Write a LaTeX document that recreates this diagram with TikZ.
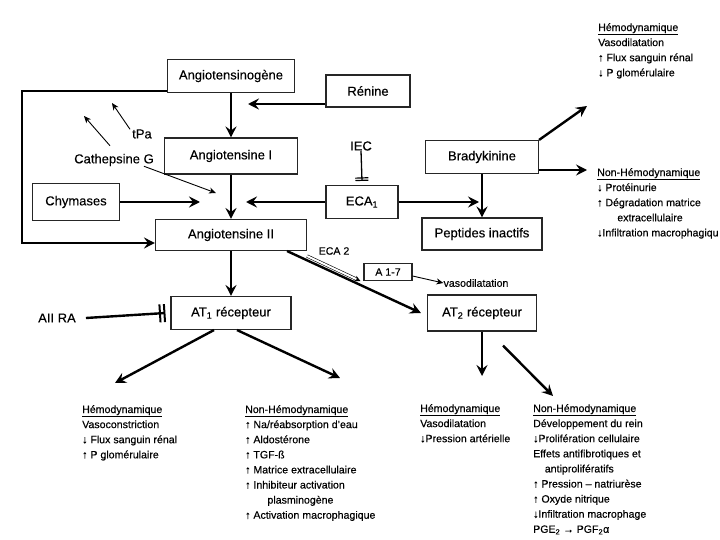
\documentclass[tikz,border=0pt]{standalone}
\usepackage{fontspec}
\setmainfont{Liberation Sans}[FakeBold=0.35]
\usetikzlibrary{arrows.meta, positioning, calc}
\newcommand{\boxfont}{\fontsize{13}{15}\selectfont}
\newcommand{\listfont}{\fontsize{10.6}{15.1}\selectfont}
\tikzset{
  molbox/.style 2 args={rectangle, draw=black!85, line width=1.1pt,
                   minimum width=#1, minimum height=#2, inner sep=0pt,
                   font=\boxfont},
  effects/.style={anchor=north west, inner sep=0pt, align=left,
                   font=\listfont},
}
\begin{document}
\begin{tikzpicture}[x=1pt, y=-1pt,
        bigarr/.style={-{Stealth[length=11pt, width=11pt, inset=4pt]}, line width=2.4pt},
        thinarr/.style={-{Stealth[length=7pt, width=6pt, inset=2pt]}, line width=0.9pt},
        blockarr/.style={-{Bar[width=18pt, line width=2pt, sep=2.5pt] Bar[width=18pt, line width=2pt]}, line width=2.4pt},
        blockthin/.style={-{Bar[width=13pt, line width=1.2pt, sep=1.2pt] Bar[width=13pt, line width=1.2pt]}, line width=1.3pt},
        lbl/.style={inner sep=0pt, font=\boxfont},
        smalllbl/.style={inner sep=0pt, font=\listfont}
      ]
        \useasboundingbox (0,0) rectangle (720,540);
        % cascade boxes
        \node[molbox={127pt}{33pt}] (agen) at (231,76) {Angiotensinogène};
        \node[molbox={84pt}{32pt}] (renine) at (368,91) {Rénine};
        \node[molbox={133pt}{36pt}] (angi) at (231,156) {Angiotensine I};
        \node[molbox={87pt}{37pt}] (chym) at (76,202) {Chymases};
        \node[molbox={72pt}{33pt}] (eca) at (362,202) {ECA\textsubscript{1}};
        \node[molbox={113pt}{33pt}] (brady) at (482,157) {Bradykinine};
        \node[molbox={120pt}{32pt}] (pept) at (482,234) {Peptides inactifs};
        \node[molbox={151pt}{31pt}] (angii) at (231,235) {Angiotensine II};
        \node[molbox={120pt}{33pt}] (at1) at (231,313) {AT\textsubscript{1} récepteur};
        \node[molbox={109pt}{36pt}] (at2) at (482,313) {AT\textsubscript{2} récepteur};
        \node[molbox={48pt}{17pt}, font=\listfont] (a17) at (388,272) {A 1-7};
        % free labels
        \node[lbl] (tpa) at (142,134) {tPa};
        \node[lbl] (cath) at (114,160) {Cathepsine G};
        \node[lbl] (iec) at (361,146) {IEC};
        \node[lbl] (aiira) at (57,318) {AII RA};
        \node[smalllbl] (eca2) at (334,251) {ECA 2};
        \node[smalllbl] (vaso) at (476,283) {vasodilatation};
        % effect lists
        \node[effects] (hemoB) at (598,23)
          {\underline{Hémodynamique}\\Vasodilatation\\↑ Flux sanguin rénal\\↓ P glomérulaire};
        \node[effects] (nhemoB) at (597,168)
          {\underline{Non-Hémodynamique}\\↓ Protéinurie\\↑ Dégradation matrice\\\hspace{1.9em}extracellulaire\\↓Infiltration macrophagiqu};
        \node[effects] (hemoA) at (82,405)
          {\underline{Hémodynamique}\\Vasoconstriction\\↓ Flux sanguin rénal\\↑ P glomérulaire};
        \node[effects] (nhemoA) at (245,405)
          {\underline{Non-Hémodynamique}\\↑ Na/réabsorption d'eau\\↑ Aldostérone\\↑ TGF-ß\\↑ Matrice extracellulaire\\↑ Inhibiteur activation\\\hspace{2.1em}plasminogène\\↑ Activation macrophagique};
        \node[effects] (hemoC) at (420,404)
          {\underline{Hémodynamique}\\Vasodilatation\\↓Pression artérielle};
        \node[effects] (nhemoC) at (533,404)
          {\underline{Non-Hémodynamique}\\Développement du rein\\↓Prolifération cellulaire\\Effets antifibrotiques et\\\hspace{1.1em}antiprolifératifs\\↑ Pression – natriurèse\\↑ Oxyde nitrique\\↓Infiltration macrophage\\PGE\textsubscript{2} → PGF\textsubscript{2}α};
        % free ends
        \coordinate (renT) at (248,104);
        \coordinate (mergeL) at (200,202);
        \coordinate (mergeR) at (246,202);
        \coordinate (mergeC) at (216,193);
        \coordinate (tpaT) at (112,103);
        \coordinate (cathT) at (84,116);
        \coordinate (bradyJ) at (479,202);
        \coordinate (bradyUp) at (587,106);
        \coordinate (bradyR) at (587,170);
        \coordinate (at1L) at (115,383);
        \coordinate (at1R) at (340,378);
        \coordinate (at2D) at (482,376);
        \coordinate (at2DR) at (553,396);
        % connectors
        \draw[bigarr] (agen.south) -- (angi.north);
        \draw[bigarr] ([yshift=-13pt]renine.west) -- (renT);
        \draw[bigarr] ([yshift=-15pt]agen.west) -| (22,191) |- ([yshift=-8pt]angii.west);
        \draw[thinarr] ([xshift=-12pt]tpa.north) -- (tpaT);
        \draw[thinarr] ([shift={(-4pt,8pt)}]cath.north) -- (cathT);
        \draw[thinarr] ([xshift=-10pt]cath.south east) -- (mergeC);
        \draw[bigarr] (angi.south) -- (angii.north);
        \draw[bigarr, line width=2.8pt] (chym.east) -- (mergeL);
        \draw[bigarr, line width=2.8pt] (eca.west) -- (mergeR);
        \draw[blockthin] (iec.south) -- ([yshift=4pt]eca.north);
        \draw[bigarr, line width=2.8pt] (eca.east) -- (bradyJ);
        \draw[bigarr] (brady.south) -- (pept.north);
        \draw[bigarr] (brady.north east) -- (bradyUp);
        \draw[bigarr] ([yshift=-13pt]brady.east) -- (bradyR);
        \draw[bigarr] (angii.south) -- (at1.north);
        \draw[blockarr] ([xshift=10pt]aiira.east) -- ([xshift=-5pt]at1.west);
        \draw[bigarr] ([xshift=-20pt]angii.south east) -- ([xshift=-6pt]at2.west);
        \draw[-{Stealth[length=6pt, width=6pt]}, line width=0.6pt, double, double distance=2pt]
          ([yshift=-5pt]angii.south east) -- ([xshift=-3pt]a17.south west);
        \draw[thinarr] ([yshift=-4pt]a17.east) -- (vaso.west);
        \draw[bigarr] ([xshift=-17pt]at1.south) -- (at1L);
        \draw[bigarr] ([xshift=6pt]at1.south) -- (at1R);
        \draw[bigarr] (at2.south) -- (at2D);
        \draw[bigarr] ([shift={(21pt,-14pt)}]at2.south) -- (at2DR);
      \end{tikzpicture}
\end{document}
